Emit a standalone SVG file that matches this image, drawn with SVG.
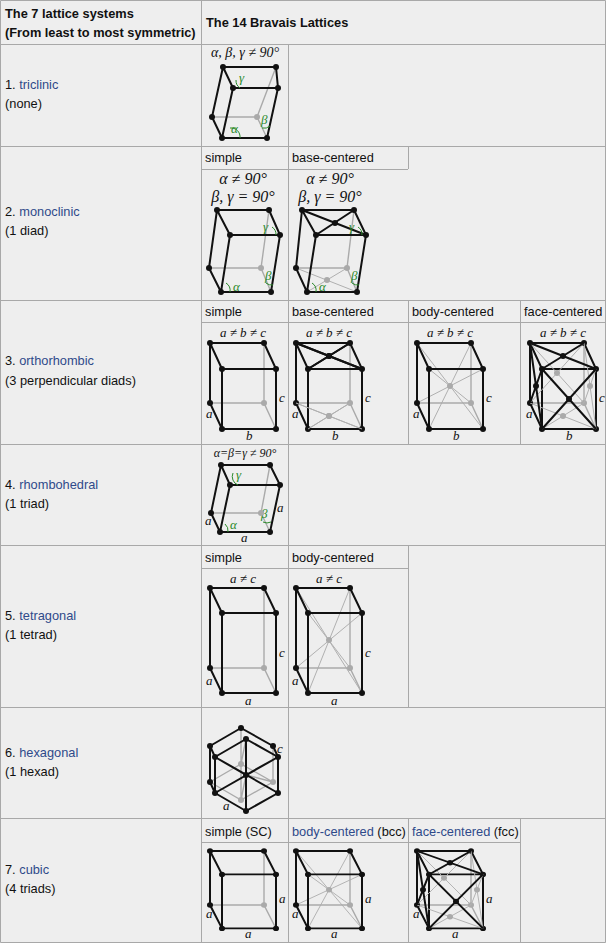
<svg xmlns="http://www.w3.org/2000/svg" xmlns:xlink="http://www.w3.org/1999/xlink" width="606" height="943" viewBox="0 0 606 943">
<style>
.t{font-family:"Liberation Sans",Arial,sans-serif;font-size:12.8px;fill:#111}
.b{font-weight:bold}
.lk{fill:#2f4a8a}
.m{font-family:"Liberation Serif","Times New Roman",serif;font-style:italic;font-size:13px;fill:#111}
.mc{font-family:"Liberation Serif","Times New Roman",serif;font-style:italic;font-size:13px;fill:#111;text-anchor:middle}
.g{font-family:"Liberation Serif",serif;font-style:italic;font-size:13px;fill:#2a8a2a}
.grid{stroke:#a8a8a8;stroke-width:1;fill:none}
.k{stroke:#111;stroke-width:2;fill:none;stroke-linejoin:round}
.gr{stroke:#aaa;stroke-width:1.4;fill:none}
.gt{stroke:#b0b0b0;stroke-width:1;fill:none}
.ga{stroke:#2a8a2a;stroke-width:1;fill:none}
.dk{fill:#111}
.dg{fill:#aaa}
</style>
<defs>
<g id="box">
<path class="gr" d="M0,60 L54,60 M54,0 L54,60 L66,86"/>
<path class="k" d="M0,0 L54,0 L66,26 M0,0 L12,26 M0,0 L0,60 L12,86 M12,26 H66 V86 H12 Z"/>
<circle class="dg" cx="54" cy="60" r="3"/>
<g class="dk"><circle cx="0" cy="0" r="3"/><circle cx="54" cy="0" r="3"/><circle cx="12" cy="26" r="3"/><circle cx="66" cy="26" r="3"/><circle cx="0" cy="60" r="3"/><circle cx="12" cy="86" r="3"/><circle cx="66" cy="86" r="3"/></g>
</g>
<g id="basec">
<path class="gt" d="M0,60 L66,86 M12,86 L54,60"/>
<circle class="dg" cx="33" cy="73" r="3"/>
<path class="k" d="M0,0 L66,26 M54,0 L12,26"/>
<circle class="dk" cx="33" cy="13" r="3"/>
</g>
<g id="bodyc">
<path class="gt" d="M0,0 L66,86 M54,0 L12,86 M12,26 L54,60 M66,26 L0,60"/>
<circle class="dg" cx="33" cy="43" r="3"/>
</g>
<g id="facec">
<path class="gt" d="M0,0 L54,60 M54,0 L0,60 M54,0 L66,86 M66,26 L54,60 M0,60 L66,86 M12,86 L54,60"/>
<g class="dg"><circle cx="27" cy="30" r="3"/><circle cx="60" cy="43" r="3"/><circle cx="33" cy="73" r="3"/></g>
<path class="k" d="M0,0 L66,26 M54,0 L12,26 M12,26 L66,86 M66,26 L12,86 M0,0 L12,86 M12,26 L0,60"/>
<g class="dk"><circle cx="33" cy="13" r="3"/><circle cx="39" cy="56" r="3"/><circle cx="6" cy="43" r="3"/></g>
</g>
<g id="tbox">
<path class="gr" d="M0,80 L54,80 M54,0 L54,80 L66,105"/>
<path class="k" d="M0,0 L54,0 L66,25 M0,0 L12,25 M0,0 L0,80 L12,105 M12,25 H66 V105 H12 Z"/>
<circle class="dg" cx="54" cy="80" r="3"/>
<g class="dk"><circle cx="0" cy="0" r="3"/><circle cx="54" cy="0" r="3"/><circle cx="12" cy="25" r="3"/><circle cx="66" cy="25" r="3"/><circle cx="0" cy="80" r="3"/><circle cx="12" cy="105" r="3"/><circle cx="66" cy="105" r="3"/></g>
</g>
</defs>
<rect width="606" height="943" fill="#eeeeee"/>
<g id="grid">
<path class="grid" d="M0.5,0.5 H605.5 V942.5 H0.5 Z M201.5,0 V943 M288.5,44 V146 M0,44.5 H606 M0,146.5 H606 M0,300.5 H606 M0,444.5 H606 M0,545.5 H606 M0,707.5 H606 M0,818.5 H606
M201,169.5 H408 M288.5,146 V300 M408.5,146 V169
M201,322.5 H606 M288.5,300 V444 M408.5,300 V444 M520.5,300 V444
M288.5,444 V545
M201,568.5 H408 M288.5,545 V707 M408.5,545 V707
M288.5,707 V818
M201,842.5 H520 M288.5,818 V943 M408.5,818 V943 M520.5,818 V943"/>
</g>
<g id="header">
<text class="t b" x="5" y="18">The 7 lattice systems</text>
<text class="t b" x="5" y="37">(From least to most symmetric)</text>
<text class="t b" x="206" y="27">The 14 Bravais Lattices</text>
</g>
<g id="row-labels">
<text class="t" x="5" y="89">1. <tspan class="lk">triclinic</tspan></text>
<text class="t" x="5" y="108">(none)</text>
<text class="t" x="5" y="216">2. <tspan class="lk">monoclinic</tspan></text>
<text class="t" x="5" y="235">(1 diad)</text>
<text class="t" x="5" y="365">3. <tspan class="lk">orthorhombic</tspan></text>
<text class="t" x="5" y="385">(3 perpendicular diads)</text>
<text class="t" x="5" y="489">4. <tspan class="lk">rhombohedral</tspan></text>
<text class="t" x="5" y="508">(1 triad)</text>
<text class="t" x="5" y="620">5. <tspan class="lk">tetragonal</tspan></text>
<text class="t" x="5" y="639">(1 tetrad)</text>
<text class="t" x="5" y="757">6. <tspan class="lk">hexagonal</tspan></text>
<text class="t" x="5" y="776">(1 hexad)</text>
<text class="t" x="5" y="874">7. <tspan class="lk">cubic</tspan></text>
<text class="t" x="5" y="893">(4 triads)</text>
</g>
<g id="subheaders">
<text class="t" x="205" y="162">simple</text>
<text class="t" x="292" y="162">base-centered</text>
<text class="t" x="205" y="316">simple</text>
<text class="t" x="292" y="316">base-centered</text>
<text class="t" x="412" y="316">body-centered</text>
<text class="t" x="524" y="316">face-centered</text>
<text class="t" x="205" y="562">simple</text>
<text class="t" x="292" y="562">body-centered</text>
<text class="t" x="205" y="836">simple (SC)</text>
<text class="t" x="292" y="836"><tspan class="lk">body-centered</tspan> (bcc)</text>
<text class="t" x="412" y="836"><tspan class="lk">face-centered</tspan> (fcc)</text>
</g>
<g id="triclinic">
<text class="mc" x="245" y="57" style="font-size:14px">α, β, γ ≠ 90°</text>
<path class="gr" d="M212,117 L257,117 L276,67 M257,117 L267,138"/>
<path class="k" d="M223,67 L276,67 L278,88 M223,67 L233,88 L278,88 M223,67 L212,117 L222,138 L267,138 L278,88 M233,88 L222,138"/>
<path class="ga" d="M236,80 A9,9 0 0 0 240,88 M262,128 A9,9 0 0 0 270,126 M230,128 A9,9 0 0 1 240,138"/>
<text class="g" x="239" y="82">γ</text><text class="g" x="261" y="124">β</text><text class="g" x="231" y="133">α</text>
<circle class="dg" cx="257" cy="117" r="3"/>
<g class="dk"><circle cx="223" cy="67" r="3"/><circle cx="276" cy="67" r="3"/><circle cx="233" cy="88" r="3"/><circle cx="278" cy="88" r="3"/><circle cx="212" cy="117" r="3"/><circle cx="222" cy="138" r="3"/><circle cx="267" cy="138" r="3"/></g>
</g>
<g id="mono-simple">
<text class="mc" x="243" y="184" style="font-size:16px">α ≠ 90°</text>
<text class="mc" x="243" y="202" style="font-size:16px">β, γ = 90°</text>
<path class="gr" d="M209,268 L261,268 L269,210 M261,268 L271,292"/>
<path class="k" d="M217,210 L269,210 L280,235 M217,210 L230,235 L280,235 M217,210 L209,268 L221,292 L271,292 L280,235 M230,235 L221,292"/>
<path class="ga" d="M272,227 A9,9 0 0 1 276,235 M266,283 A9,9 0 0 0 273,285 M230,292 A9,9 0 0 0 226,283"/>
<text class="g" x="263" y="231">γ</text><text class="g" x="265" y="280">β</text><text class="g" x="233" y="291">α</text>
<circle class="dg" cx="261" cy="268" r="3"/>
<g class="dk"><circle cx="217" cy="210" r="3"/><circle cx="269" cy="210" r="3"/><circle cx="230" cy="235" r="3"/><circle cx="280" cy="235" r="3"/><circle cx="209" cy="268" r="3"/><circle cx="221" cy="292" r="3"/><circle cx="271" cy="292" r="3"/></g>
</g>
<g id="mono-base">
<text class="mc" x="330" y="184" style="font-size:16px">α ≠ 90°</text>
<text class="mc" x="330" y="202" style="font-size:16px">β, γ = 90°</text>
<path class="gr" d="M296,268 L347,268 L354,210 M347,268 L357,292"/>
<path class="gt" d="M296,268 L357,292 M307,292 L347,268"/>
<circle class="dg" cx="327" cy="280" r="3"/>
<path class="k" d="M302,210 L354,210 L366,235 M302,210 L316,235 L366,235 M302,210 L296,268 L307,292 L357,292 L366,235 M316,235 L307,292 M302,210 L366,235 M354,210 L316,235"/>
<path class="ga" d="M358,227 A9,9 0 0 1 362,235 M352,283 A9,9 0 0 0 359,285 M316,292 A9,9 0 0 0 312,283"/>
<text class="g" x="349" y="231">γ</text><text class="g" x="351" y="280">β</text><text class="g" x="319" y="291">α</text>
<circle class="dg" cx="347" cy="268" r="3"/>
<g class="dk"><circle cx="302" cy="210" r="3"/><circle cx="354" cy="210" r="3"/><circle cx="316" cy="235" r="3"/><circle cx="366" cy="235" r="3"/><circle cx="296" cy="268" r="3"/><circle cx="307" cy="292" r="3"/><circle cx="357" cy="292" r="3"/><circle cx="335" cy="223" r="3"/></g>
</g>
<g id="ortho-simple">
<text class="mc" x="243" y="337">a ≠ b ≠ c</text>
<use xlink:href="#box" transform="translate(210,343)"/>
<text class="m" x="206" y="418">a</text><text class="m" x="279" y="402">c</text><text class="m" x="246" y="440">b</text>
</g>
<g id="ortho-base">
<text class="mc" x="329" y="337">a ≠ b ≠ c</text>
<use xlink:href="#basec" transform="translate(296,343)"/>
<use xlink:href="#box" transform="translate(296,343)"/>
<use xlink:href="#basec" transform="translate(296,343)"/>
<text class="m" x="292" y="418">a</text><text class="m" x="365" y="402">c</text><text class="m" x="332" y="440">b</text>
</g>
<g id="ortho-body">
<text class="mc" x="450" y="337">a ≠ b ≠ c</text>
<use xlink:href="#bodyc" transform="translate(417,343)"/>
<use xlink:href="#box" transform="translate(417,343)"/>
<text class="m" x="413" y="418">a</text><text class="m" x="486" y="402">c</text><text class="m" x="453" y="440">b</text>
</g>
<g id="ortho-face">
<text class="mc" x="563" y="337">a ≠ b ≠ c</text>
<use xlink:href="#box" transform="translate(530,343)"/>
<use xlink:href="#facec" transform="translate(530,343)"/>
<text class="m" x="526" y="418">a</text><text class="m" x="599" y="402">c</text><text class="m" x="566" y="440">b</text>
</g>
<g id="rhombohedral">
<text class="mc" x="245" y="457" style="font-size:12px">α=β=γ ≠ 90°</text>
<path class="gr" d="M211,513 L261,513 L270,465 M261,513 L270,532"/>
<path class="k" d="M221,465 L270,465 L280,485 M221,465 L230,485 L280,485 M221,465 L211,513 L220,532 L270,532 L280,485 M230,485 L220,532"/>
<path class="ga" d="M233,473 A9,9 0 0 0 238,485 M263,522 A9,9 0 0 0 271,522 M228,532 A9,9 0 0 0 225,524"/>
<text class="g" x="236" y="479">γ</text><text class="g" x="261" y="518">β</text><text class="g" x="230" y="529">α</text>
<circle class="dg" cx="261" cy="513" r="3"/>
<g class="dk"><circle cx="221" cy="465" r="3"/><circle cx="270" cy="465" r="3"/><circle cx="230" cy="485" r="3"/><circle cx="280" cy="485" r="3"/><circle cx="211" cy="513" r="3"/><circle cx="220" cy="532" r="3"/><circle cx="270" cy="532" r="3"/></g>
<text class="m" x="205" y="525">a</text><text class="m" x="277" y="512">a</text><text class="m" x="241" y="542">a</text>
</g>
<g id="tetra-simple">
<text class="mc" x="243" y="583">a ≠ c</text>
<use xlink:href="#tbox" transform="translate(210,588)"/>
<text class="m" x="206" y="685">a</text><text class="m" x="279" y="657">c</text><text class="m" x="245" y="705">a</text>
</g>
<g id="tetra-body">
<path class="gt" d="M296,588 L362,693 M350,588 L308,693 M308,613 L350,668 M362,613 L296,668"/>
<circle class="dg" cx="329" cy="640" r="3"/>
<use xlink:href="#tbox" transform="translate(296,588)"/>
<text class="mc" x="329" y="583">a ≠ c</text>
<text class="m" x="292" y="685">a</text><text class="m" x="365" y="657">c</text><text class="m" x="331" y="705">a</text>
</g>
<g id="hexagonal">
<path class="gr" d="M241,728 L241,800 M210,782 L241,764 L273,782 L246,775 M241,764 L246,739 M210,782 L241,800 L273,782 M241,800 L246,775 M273,746 L273,782"/>
<path class="k" d="M241,728 L210,746 L215,757 L246,775 L278,757 L273,746 Z M246,739 L215,757 M246,739 L278,757 M246,739 L246,811 M215,757 L278,793 M278,757 L215,793 M210,746 L210,782 L215,793 L246,811 L278,793 L278,757 M215,757 L215,793"/>
<circle class="dg" cx="241" cy="764" r="3"/><circle class="dg" cx="273" cy="782" r="3"/><circle class="dg" cx="241" cy="800" r="3"/>
<g class="dk"><circle cx="241" cy="728" r="3"/><circle cx="210" cy="746" r="3"/><circle cx="215" cy="757" r="3"/><circle cx="246" cy="739" r="3"/><circle cx="273" cy="746" r="3"/><circle cx="278" cy="757" r="3"/><circle cx="246" cy="775" r="3"/><circle cx="210" cy="782" r="3"/><circle cx="215" cy="793" r="3"/><circle cx="278" cy="793" r="3"/><circle cx="246" cy="811" r="3"/></g>
<text class="m" x="277" y="753">c</text><text class="m" x="223" y="810">a</text>
</g>
<g id="cubic-simple">
<use xlink:href="#box" transform="translate(210,851) scale(1,0.9)"/>
<text class="m" x="206" y="918">a</text><text class="m" x="279" y="903">a</text><text class="m" x="245" y="938">a</text>
</g>
<g id="cubic-bcc">
<use xlink:href="#bodyc" transform="translate(296,851) scale(1,0.9)"/>
<use xlink:href="#box" transform="translate(296,851) scale(1,0.9)"/>
<text class="m" x="292" y="918">a</text><text class="m" x="365" y="903">a</text><text class="m" x="331" y="938">a</text>
</g>
<g id="cubic-fcc">
<use xlink:href="#box" transform="translate(417,851) scale(1,0.9)"/>
<use xlink:href="#facec" transform="translate(417,851) scale(1,0.9)"/>
<text class="m" x="413" y="918">a</text><text class="m" x="486" y="903">a</text><text class="m" x="452" y="938">a</text>
</g>
</svg>
